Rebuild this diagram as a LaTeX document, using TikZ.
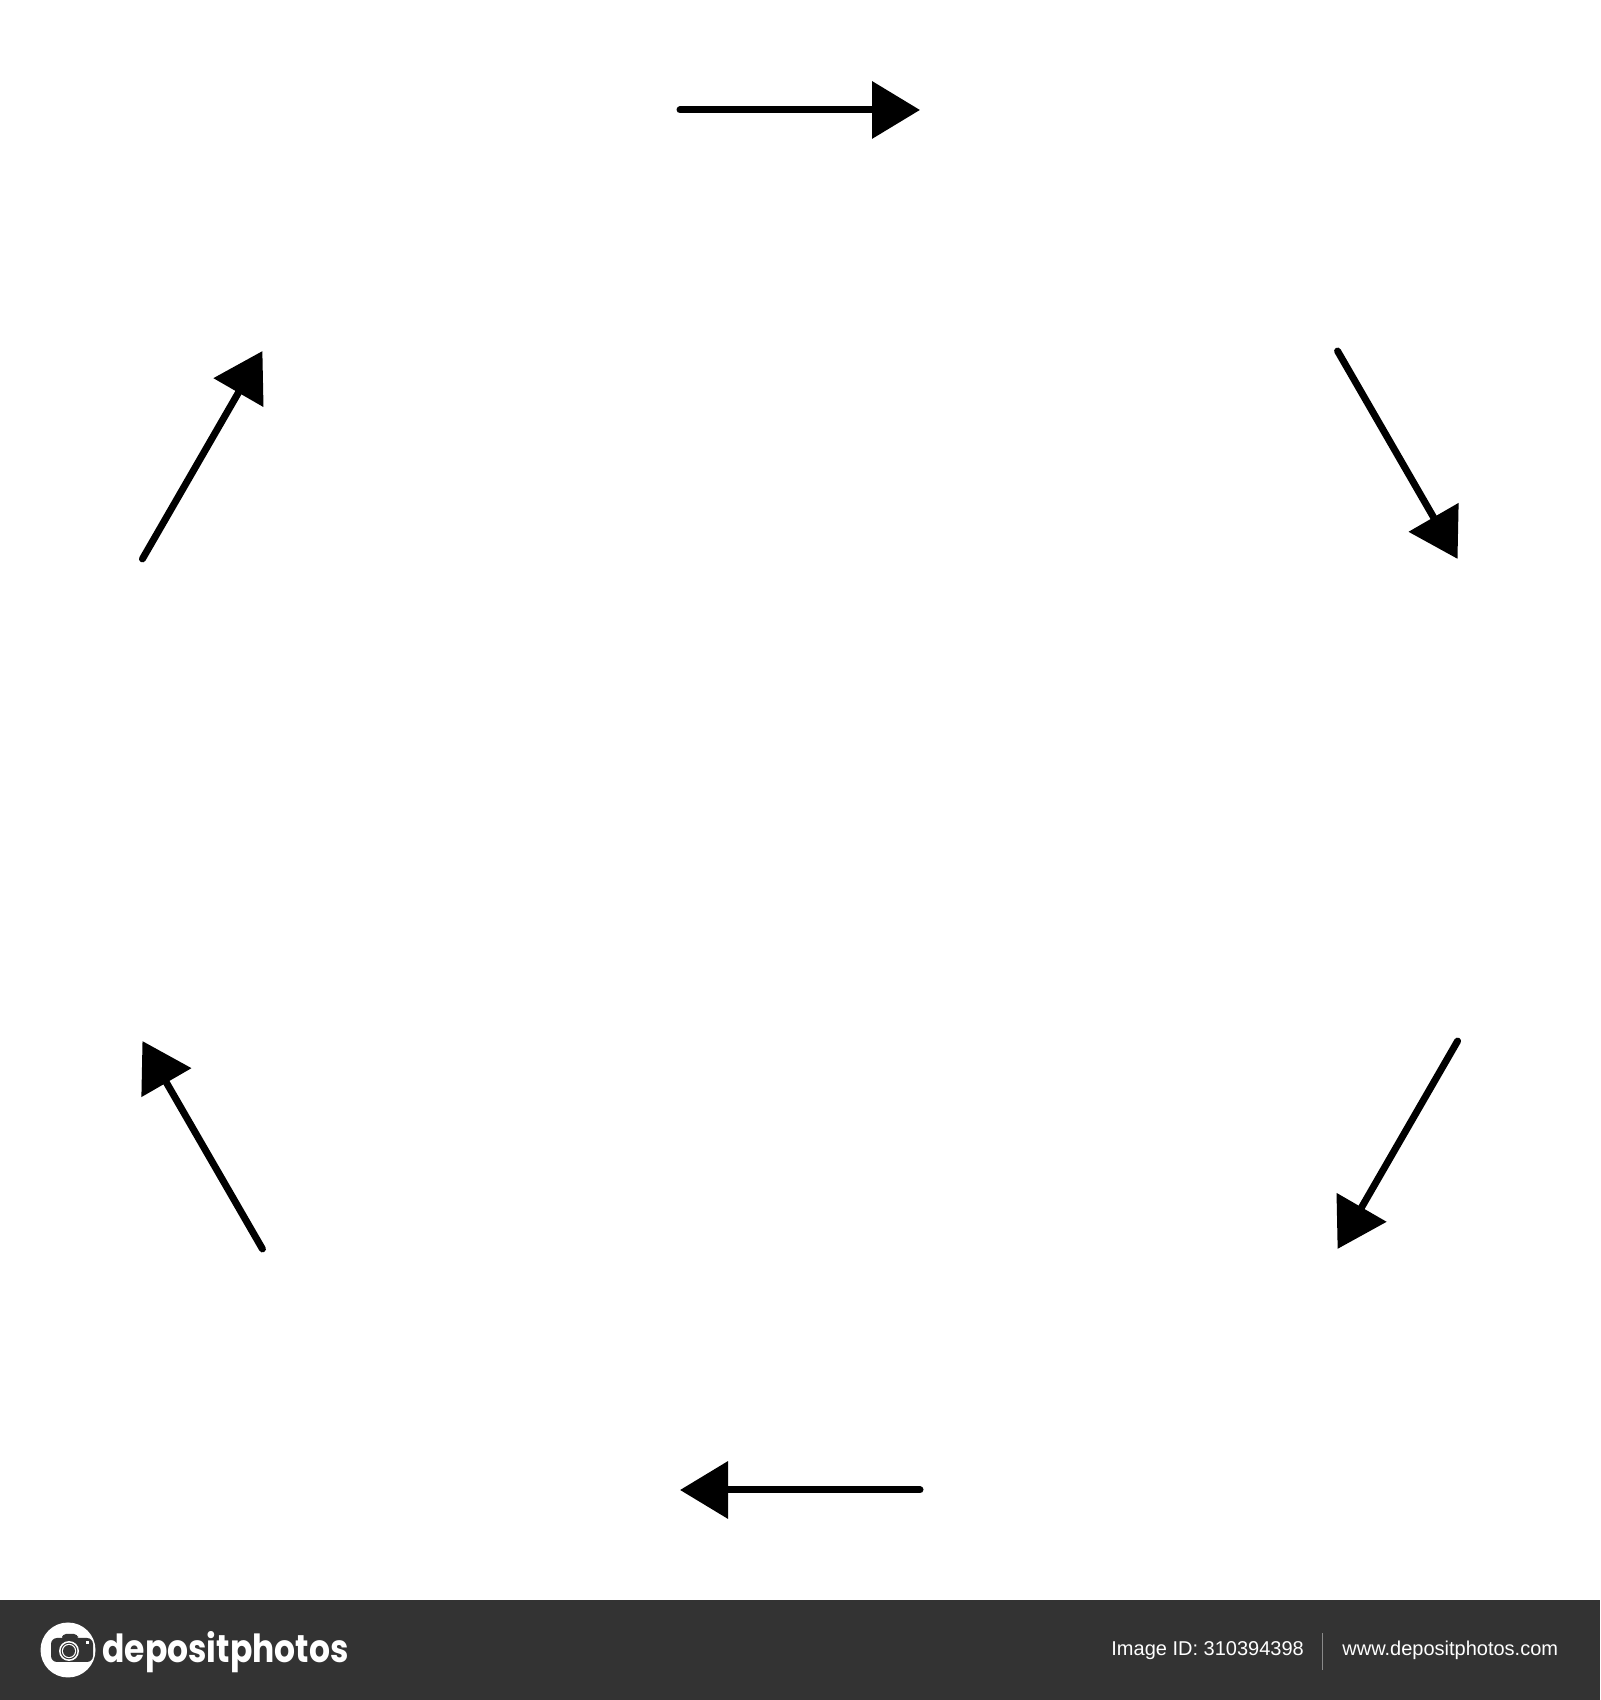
\documentclass[tikz,border=0pt]{standalone}
\usepackage{fontspec}
\setmainfont{Liberation Sans}
\newfontfamily\logofont{Poppins}
\usetikzlibrary{arrows.meta,calc}
\definecolor{barbg}{HTML}{333333}
\definecolor{sepgray}{HTML}{8A8A8A}
\tikzset{
  cyclearrow/.style={line width=3.5pt, line cap=round,
    -{Triangle[length=24pt,width=28pt]}},
  bartext/.style={text=white, inner sep=0pt, font=\fontsize{10pt}{12pt}\selectfont},
}
\begin{document}
\begin{tikzpicture}[x=0.5pt,y=0.5pt]
\useasboundingbox (0,0) rectangle (1600,1700);
\fill[white] (0,0) rectangle (1600,1700);
% six arrows on a circle, clockwise
\coordinate (ctr) at (800,900);
\foreach \i/\a in {1/90,2/30,3/-30,4/-90,5/-150,6/150}{
  \coordinate (s\i) at ($(ctr)+({690*cos(\a)-120*sin(\a)},{690*sin(\a)+120*cos(\a)})$);
  \coordinate (t\i) at ($(ctr)+({690*cos(\a)+120*sin(\a)},{690*sin(\a)-120*cos(\a)})$);
  \draw[cyclearrow] (s\i) -- (t\i);
}
% bottom bar
\fill[barbg] (0,0) rectangle (1600,100);
% logo
\fill[white] (68,50) circle (27.5);
\fill[barbg, rounded corners=3] (51,38) rectangle (93,62);
\fill[barbg, rounded corners=2] (62,60) rectangle (78,66);
\fill[white] (85.5,55.5) rectangle (88.5,58.5);
\fill[white] (69,49) circle (10);
\fill[barbg] (69,49) circle (8.3);
\fill[white] (69,49) circle (7.2);
\fill[barbg] (69,49) circle (6);
\node[anchor=base west, inner sep=0pt, text=white] (logo) at (102,37)
  {\resizebox{123pt}{15.5pt}{\logofont\bfseries depositphotos}};
% id and url
\node[bartext, anchor=base west] (imgid) at (1111,44) {Image ID: 310394398};
\draw[sepgray, line width=0.5pt] (1322,30) -- (1322,67);
\node[bartext, anchor=base west] (url) at (1342,44) {www.depositphotos.com};
\end{tikzpicture}
\end{document}
